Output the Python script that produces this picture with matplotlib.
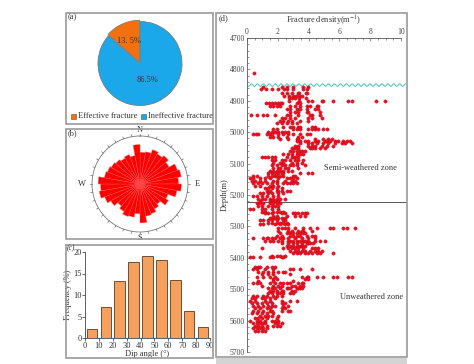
import numpy as np
import matplotlib
matplotlib.use("Agg")
import matplotlib.pyplot as plt
from matplotlib.patches import Rectangle

plt.rcParams['font.family'] = ['Liberation Serif', 'DejaVu Serif']
plt.rcParams['mathtext.fontset'] = 'stix'

# (a) pie
pie_labels = ['Effective fracture', 'Ineffective fracture']
pie_values = [13.5, 86.5]
pie_text = ['13. 5%', '86.5%']

# (b) rose diagram, 10 degree bins clockwise from north (relative length)
rose_bins = np.arange(0, 360, 10)
rose_len = [0.66, 0.68, 0.76, 0.72, 0.77, 0.70, 0.83, 0.87, 0.80, 0.86, 0.78, 0.62,
            0.68, 0.55, 0.60, 0.66, 0.68, 0.81, 0.62, 0.70, 0.72, 0.66, 0.60, 0.70,
            0.78, 0.86, 0.82, 0.87, 0.75, 0.72, 0.69, 0.66, 0.62, 0.65, 0.60, 0.82]

# (c) dip angle histogram
dip_center = [5, 15, 25, 35, 45, 55, 65, 75, 85]
dip_freq = [2.0, 7.2, 13.2, 17.7, 19.0, 18.2, 13.5, 6.2, 2.5]

# (d) fracture density vs depth, grouped by depth rows
row_depth = [4812, 4855, 4863, 4876, 4885, 4892, 4902, 4908, 4917, 4927, 4935, 4945, 4956,
             4964, 4972, 4982, 4990, 4998, 5007, 5014, 5022, 5028, 5035, 5044, 5051, 5060,
             5070, 5078, 5089, 5097, 5105, 5113, 5124, 5131, 5140, 5147, 5154, 5163, 5171,
             5179, 5187, 5195, 5203, 5212, 5219, 5226, 5235, 5245, 5253, 5258, 5267, 5274,
             5280, 5288, 5293, 5304, 5315, 5322, 5331, 5338, 5347, 5354, 5362, 5370, 5377,
             5384, 5393, 5398, 5428, 5437, 5444, 5453, 5460, 5468, 5474, 5481, 5490, 5497,
             5505, 5513, 5522, 5529, 5538, 5545, 5554, 5561, 5569, 5577, 5585, 5593, 5600,
             5609, 5616, 5624, 5632]
row_density = [
    [0.45],
    [1.06, 2.25, 2.58, 3.01, 3.66, 3.98],
    [0.89, 1.23, 1.64, 1.99, 2.38, 2.58, 3.01, 3.66, 3.88],
    [2.3, 2.6, 2.95, 3.3, 3.4, 3.8, 3.9],
    [2.4, 2.7, 3.0, 3.2, 3.4, 3.6],
    [2.7, 2.9, 3.1, 3.4, 3.8],
    [2.7, 3.4, 3.98, 4.2, 4.85, 4.96, 5.6, 6.58, 6.8, 8.38, 8.98],
    [1.23, 1.45, 1.6, 1.82, 2.03, 2.14, 2.25, 3.23, 3.44],
    [1.49, 1.71, 1.93, 2.14, 2.79, 3.12, 3.44, 3.88, 4.09, 4.52, 4.63],
    [2.58, 2.79, 3.23, 3.44, 3.88, 4.42, 4.63],
    [2.79, 3.12, 3.34, 3.88, 3.98, 4.74],
    [0.26, 0.63, 1.06, 1.28, 1.82, 2.58, 2.79, 3.34, 4.09, 4.2, 4.74],
    [2.25, 2.47, 2.79, 3.12, 3.98, 4.2, 4.85],
    [2.14, 2.36, 2.68, 2.9, 3.44, 3.98],
    [1.93, 2.25, 2.58, 2.9, 3.23],
    [2.36, 2.79, 3.0, 3.34, 3.44, 4.2, 4.42],
    [1.71, 1.93, 3.0, 3.23, 3.44, 3.98, 4.2, 4.42, 4.63, 4.96, 5.17],
    [1.39, 1.6, 1.82, 2.03, 2.25, 2.47, 2.68],
    [0.41, 0.58, 0.74, 1.28, 1.49, 1.6, 2.03, 2.36, 2.68, 3.0, 3.44, 3.87, 4.09],
    [1.49, 1.71, 2.03, 2.58, 3.34, 3.55],
    [2.14, 2.68, 3.23, 3.34, 4.42, 4.96, 5.28, 5.5],
    [3.23, 3.44, 3.77, 3.98, 4.42, 4.63, 5.06, 5.17, 5.39, 5.71, 5.93, 6.25, 6.47, 6.69],
    [3.44, 3.98, 4.2, 4.52, 4.96, 5.28, 5.71, 6.15, 6.36, 6.8],
    [3.12, 3.34, 3.98, 4.2, 4.42, 4.85, 5.17, 5.6],
    [2.9, 3.12, 3.34, 4.09, 4.2, 4.42, 4.74, 5.06],
    [2.79, 3.0, 3.23, 3.44, 3.55, 3.77],
    [2.36, 2.68, 2.9, 3.23, 3.34, 3.44, 3.66],
    [0.95, 1.17, 1.39, 1.6, 1.82, 2.58, 2.9, 3.0, 3.12, 3.34],
    [1.6, 1.82, 2.25, 2.47, 2.79, 3.12, 3.34, 3.66],
    [1.71, 2.14, 2.36, 2.9, 3.23, 3.55],
    [1.6, 1.93, 2.25, 2.47, 2.79, 3.0, 3.23, 3.77],
    [1.71, 2.03, 2.14, 2.47, 2.68, 3.34],
    [1.49, 1.71, 1.93, 2.14, 2.36, 2.68, 2.9],
    [1.39, 1.6, 1.82, 2.03, 2.25, 2.36, 3.44, 3.98, 4.2],
    [0.41, 0.63, 1.39, 1.6, 1.82, 1.93, 2.14, 2.36, 3.0, 3.12],
    [0.2, 0.41, 0.85, 1.17, 1.49, 2.03, 2.58, 2.79, 3.0, 3.23],
    [0.31, 0.52, 0.85, 1.17, 1.71, 1.93, 2.47, 2.9, 3.12],
    [0.41, 0.74, 0.95, 1.28, 1.6, 1.93, 2.36, 2.58, 2.79, 3.0, 3.23],
    [0.52, 0.85, 1.49, 1.71, 2.03],
    [1.17, 1.39, 1.6, 1.93, 2.25],
    [1.28, 1.49, 1.93, 2.03, 2.25, 2.58, 2.79],
    [0.85, 1.06, 1.39, 1.6, 2.03, 2.36],
    [0.41, 0.63, 0.95, 1.28, 1.71, 2.03],
    [0.74, 0.95, 1.17, 1.49, 1.71, 1.93, 2.14, 2.47],
    [0.85, 1.49, 1.71, 1.82, 2.03],
    [0.63, 0.85, 1.06, 1.49, 1.71, 1.93, 2.14],
    [0.74, 0.95, 1.39, 1.6, 1.82, 2.03],
    [0.2, 0.41, 0.95, 1.17, 1.6, 2.03],
    [0.95, 1.17, 1.71, 1.93, 2.14, 2.36],
    [1.17, 1.39, 1.6, 2.25, 2.47, 3.0, 3.12, 3.34, 3.55, 3.77, 3.87],
    [1.71, 1.93, 2.58, 3.12, 3.44, 3.77],
    [1.49, 1.71, 1.82, 2.03, 2.25, 2.47],
    [0.85, 1.06, 1.39, 1.6, 1.93, 2.36, 2.47],
    [1.39, 1.6, 1.93, 2.14, 2.36, 2.58],
    [0.85, 1.06, 1.82, 2.14, 2.47, 2.68],
    [2.03, 2.25, 2.47, 2.68, 3.12, 3.66, 4.09, 4.52, 5.39, 5.6, 6.25, 6.47, 7.01],
    [2.03, 2.68, 2.9, 3.34, 3.55, 3.66, 4.2],
    [2.14, 2.58, 2.79, 3.0, 3.23, 3.44, 3.66, 3.77],
    [1.93, 2.25, 2.79, 3.0, 3.23, 3.44, 3.87, 4.2, 4.42],
    [0.41, 1.06, 1.28, 1.39, 1.6, 1.82, 2.14, 2.36, 2.68, 3.12, 3.55, 3.98, 4.42],
    [1.17, 1.49, 1.71, 2.03, 2.25, 2.68, 2.79, 3.0, 3.23, 3.44, 3.66, 3.77, 3.98, 4.42, 4.74, 5.06],
    [2.25, 2.68, 3.0, 3.23, 3.55, 3.87, 3.98, 4.09, 4.31],
    [2.58, 2.79, 3.0, 3.23, 3.44, 3.55, 3.66, 3.77],
    [0.95, 2.36, 2.68, 2.9, 3.12, 3.34, 3.66, 4.2, 4.42, 4.63],
    [2.79, 3.12, 3.34, 3.55, 3.77, 4.09, 4.42, 4.63, 4.85],
    [3.0, 3.23, 3.44, 3.77, 3.98, 4.2, 4.52, 4.74, 5.6],
    [1.6, 1.93, 2.14, 2.47],
    [0.2, 0.41, 0.85, 1.49, 1.71, 2.25, 2.36],
    [0.52, 0.74, 0.85, 1.28, 1.6, 1.82],
    [0.41, 0.63, 1.17, 1.71, 2.79, 3.0, 3.44, 4.2],
    [0.74, 1.06, 1.39, 1.71, 2.03, 2.36, 2.47],
    [0.95, 1.39, 1.71, 2.79],
    [0.63, 1.06, 1.49, 1.82, 3.55, 3.87, 3.98, 4.52, 4.96, 5.6, 5.82, 6.58, 6.8],
    [1.71, 1.93, 3.77, 3.98],
    [0.74, 1.71, 3.0],
    [0.41, 0.63, 0.85, 1.49, 1.82, 2.14, 2.36, 2.58, 2.79, 3.34, 3.55, 3.66],
    [0.95, 1.71, 2.03, 2.25, 2.9, 3.12, 3.44, 3.66],
    [1.39, 1.6, 1.82, 2.14, 2.58, 2.68, 2.79, 3.23, 3.34, 3.44, 3.55],
    [1.49, 1.71, 1.93, 2.25, 2.36, 2.9, 3.12],
    [1.39, 1.6, 1.93, 2.14, 2.36, 2.79, 3.0],
    [0.41, 0.63, 1.06, 1.28, 1.71, 1.93, 2.25],
    [0.31, 0.52, 0.95, 1.17, 1.49, 1.82],
    [0.2, 0.52, 1.17, 1.49, 2.25, 2.79, 3.23],
    [0.31, 0.63, 0.95, 1.28, 1.6, 2.25, 2.47],
    [0.41, 0.74, 1.06, 1.39, 1.6, 1.82, 2.36, 2.68],
    [0.52, 0.85, 1.28, 1.49, 2.25, 2.47],
    [0.41, 0.74, 1.06, 1.49, 1.6, 2.25, 2.68, 2.79],
    [0.31, 0.63, 0.95, 1.28, 1.71],
    [0.85, 1.17, 1.39, 1.6, 2.03],
    [0.52, 0.74, 0.95, 1.28, 1.93],
    [0.2, 0.63, 0.85, 1.17, 1.6, 1.82, 2.03],
    [0.41, 0.63, 0.85, 1.06, 1.17, 1.82, 2.03, 2.25],
    [0.52, 0.74, 0.95, 1.28, 1.71, 1.93, 2.14],
    [0.41, 0.63, 0.85, 1.06, 1.28],
    [0.52, 0.74, 0.95, 1.17],
]
unconformity_depth = 4850
zone_boundary = 5222

W, H = 474, 364
fig = plt.figure(figsize=(W / 100, H / 100), dpi=100)


def box(l, t, r, b):
    # figure-pixel box -> fig fraction rect
    return [l / W, 1 - b / H, (r - l) / W, (b - t) / H]


# panel frames
for (l, t, r, b) in [(66, 13, 213, 124), (66, 129, 213, 239), (66, 245, 213, 358), (216, 13, 407, 357)]:
    fig.add_artist(Rectangle((l / W, 1 - b / H), (r - l) / W, (b - t) / H, transform=fig.transFigure,
                             fill=False, edgecolor='#9a9a9a', lw=1.2))
fig.add_artist(Rectangle((216 / W, 0), 191 / W, 6 / H, transform=fig.transFigure, color='#d4d4d4', lw=0))

tc = '#333333'
fig.text(68 / W, 1 - 17 / H, '(a)', fontsize=6, color=tc, va='center')
fig.text(68 / W, 1 - 133 / H, '(b)', fontsize=6, color=tc, va='center')
fig.text(67 / W, 1 - 248 / H, '(c)', fontsize=5.5, color=tc, va='center', style='italic')
fig.text(219 / W, 1 - 18 / H, '(d)', fontsize=6, color=tc, va='center')

# ---- (a) pie
axa = fig.add_axes(box(140 - 46.2, 63.5 - 46.2, 140 + 46.2, 63.5 + 46.2))
pie_colors = ['#f3700e', '#1aa8ea']
axa.pie(pie_values, colors=pie_colors, startangle=90, counterclock=True, explode=(0.03, 0),
        wedgeprops=dict(edgecolor='#7a7a7a', linewidth=0.6))
axa.set_xlim(-1.1, 1.1)
axa.set_ylim(-1.1, 1.1)
ang0 = 90 + pie_values[0] * 3.6 / 2
axa.text(0.65 * np.cos(np.radians(ang0)), 0.6 * np.sin(np.radians(ang0)), pie_text[0],
         fontsize=6, color='#333333', ha='center', va='center')
ang1 = 90 + pie_values[0] * 3.6 + pie_values[1] * 3.6 / 2
axa.text(0.43 * np.cos(np.radians(ang1)), 0.43 * np.sin(np.radians(ang1)), pie_text[1],
         fontsize=6, color='#333333', ha='center', va='center')
for i, (x0, lab) in enumerate(zip([71, 141], pie_labels)):
    fig.add_artist(Rectangle((x0 / W, 1 - 119 / H), 5 / W, 5 / H, transform=fig.transFigure,
                             facecolor=pie_colors[i], edgecolor='#555555', lw=0.4))
    fig.text((x0 + 7) / W, 1 - 116.5 / H, lab, fontsize=6, color=tc, va='center')

# ---- (b) rose
axb = fig.add_axes(box(140 - 48, 184 - 48, 140 + 48, 184 + 48), projection='polar')
axb.set_theta_zero_location('N')
axb.set_theta_direction(-1)
axb.bar(np.radians(rose_bins + 5), rose_len, width=np.radians(10), color='#ff0000',
        edgecolor='#ff5050', linewidth=0.3)
axb.set_ylim(0, 1)
axb.grid(False)
axb.set_xticks([])
axb.set_yticks([])
axb.spines['polar'].set_color('#777777')
axb.spines['polar'].set_linewidth(0.6)
for a in range(0, 360, 10):
    axb.plot([np.radians(a)] * 2, [1.0, 1.045], color='#777777', lw=0.5, clip_on=False)
for a, lab, r in [(0, 'N', 1.12), (90, 'E', 1.2), (180, 'S', 1.12), (270, 'W', 1.22)]:
    axb.text(np.radians(a), r, lab, fontsize=6, color=tc, ha='center', va='center')

# ---- (c) dip histogram
axc = fig.add_axes(box(85, 252, 210, 338))
axc.bar(dip_center, dip_freq, width=7.6, color='#f5a05c', edgecolor='#5a3a22', linewidth=0.6)
axc.set_xlim(0, 90)
axc.set_ylim(0, 20)
axc.set_xticks(range(0, 91, 10))
axc.set_yticks([0, 5, 10, 15, 20])
axc.spines['top'].set_visible(False)
axc.spines['right'].set_visible(False)
for s in ['left', 'bottom']:
    axc.spines[s].set_linewidth(0.6)
    axc.spines[s].set_color('#444444')
axc.tick_params(labelsize=6, length=2, width=0.5, pad=1, colors='#333333')
axc.tick_params(axis='y', pad=0.5)
axc.set_xlabel('Dip angle (°)', fontsize=6, labelpad=0, color=tc)
axc.set_ylabel('Frequency (%)', fontsize=6, labelpad=1, color=tc)

# ---- (d) density vs depth
axd = fig.add_axes(box(247, 38, 401, 352))
xs = np.concatenate([np.array(r) for r in row_density])
ys = np.concatenate([[d] * len(r) for d, r in zip(row_depth, row_density)])
axd.scatter(xs, ys, s=6, color='#ee1020', edgecolors='#b00010', linewidths=0.2, zorder=3)
axd.set_xlim(0, 10)
axd.set_ylim(5700, 4700)
axd.xaxis.tick_top()
axd.xaxis.set_label_position('top')
axd.set_xticks(range(0, 11, 2))
axd.set_xticks(np.arange(0, 10.01, 0.5), minor=True)
axd.set_yticks(range(4700, 5701, 100))
axd.set_yticks(range(4700, 5701, 20), minor=True)
axd.spines['bottom'].set_visible(False)
axd.spines['right'].set_visible(False)
for s in ['left', 'top']:
    axd.spines[s].set_linewidth(0.6)
    axd.spines[s].set_color('#555555')
axd.tick_params(which='both', direction='in', width=0.4, colors='#444444', labelsize=5.5, pad=1.5)
axd.tick_params(which='major', length=2.5)
axd.tick_params(which='minor', length=1.3)
axd.set_xlabel('Fracture density(m$^{-1}$)', fontsize=6, labelpad=3, color=tc)
axd.set_ylabel('Depth(m)', fontsize=6, labelpad=1, color=tc)
wx = np.linspace(0.05, 10.3, 600)
axd.plot(wx, unconformity_depth + 4 * np.sin(wx * 2 * np.pi / 0.385), color='#3cc8b2', lw=0.7,
         clip_on=False)
axd.plot([0, 10.35], [zone_boundary] * 2, color='#555555', lw=0.7, clip_on=False)
axd.text(7.35, 5114, 'Semi-weathered zone', fontsize=6, color=tc, ha='center', va='center')
axd.text(8.1, 5525, 'Unweathered zone', fontsize=6, color=tc, ha='center', va='center')

fig.savefig('out.png', dpi=100)
